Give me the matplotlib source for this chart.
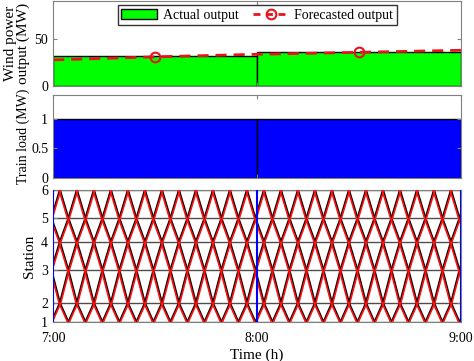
import numpy as np
import matplotlib.pyplot as plt
from matplotlib.patches import Patch
from matplotlib.lines import Line2D

plt.rcParams["font.family"] = ["Liberation Serif", "DejaVu Serif"]
plt.rcParams["font.size"] = 10

# Datos del panel de viento (MW)
horas_bloque = [7, 8]
potencia_real = [32, 36.5]
horas_pronostico = [7, 7.5, 8, 8.5, 9]
potencia_pronostico = [27.7, 31, 33.7, 35.8, 38]

# Carga de trenes (MW)
carga_tren = [1, 1]

# Diagrama de marcha
estaciones = [1, 2, 3, 4, 5, 6]
posicion_estacion = [0, 1.44, 3.92, 6.06, 7.83, 9.98]  # km
tiempo_tramo = [2.5, 2.5, 2.5, 2.5, 2.5]  # min por tramo
salidas_subida = [-15.5, -10.5, -5.5, -0.5, 4.5, 9.5, 14.5, 19.5, 24.5, 29.5,
                  34.5, 39.5, 44.5, 49.5, 54.5, 59.5, 64.5, 69.5, 74.5, 79.5,
                  84.5, 89.5, 94.5, 99.5, 104.5, 109.5, 114.5, 119.5]
salidas_bajada = [-13, -8, -3, 2, 7, 12, 17, 22, 27, 32, 37, 42, 47, 52,
                  57, 62, 67, 72, 77, 82, 87, 92, 97, 102, 107, 112, 117, 122]
retraso_real = 0.25  # min

gris = "0.5"

fig = plt.figure(figsize=(4.74, 3.61), dpi=100)
ax1 = fig.add_axes([0.112, 0.762, 0.861, 0.234])
ax2 = fig.add_axes([0.112, 0.507, 0.861, 0.229])
ax3 = fig.add_axes([0.112, 0.108, 0.861, 0.366])

for ax in (ax1, ax2, ax3):
    ax.set_xlim(7, 9)
    ax.tick_params(direction="in", length=3, color=gris, top=True, right=True)
    for s in ax.spines.values():
        s.set_color(gris)

# Panel 1: potencia eólica
ax1.bar(horas_bloque, potencia_real, width=1, align="edge",
        color="#00ff00", edgecolor="black", linewidth=1)
ax1.plot(horas_pronostico, potencia_pronostico, "--", color="#e8141b", lw=2,
         marker="o", markevery=[1, 3], markersize=7, markerfacecolor="none",
         markeredgewidth=1.5, dashes=(4, 2.5))
ax1.set_ylim(0, 90)
ax1.set_yticks([0, 50])
ax1.set_xticks([7, 8, 9])
ax1.set_xticklabels([])
ax1.set_ylabel("Wind power\noutput (MW)", labelpad=3, fontsize=11, linespacing=0.95)
handles = [Patch(facecolor="#00ff00", edgecolor="black", label="Actual output"),
           Line2D([], [], color="#e8141b", ls="--", lw=2, marker="o",
                  markerfacecolor="none", markeredgewidth=1.5, markersize=7,
                  dashes=(2.5, 2), label="Forecasted output")]
leg = ax1.legend(handles=handles, loc="upper center", ncol=2, frameon=True,
                 fancybox=False, edgecolor="black", borderpad=0.25,
                 handlelength=2.6, columnspacing=1.0, handletextpad=0.4,
                 bbox_to_anchor=(0.5, 1.035))
leg.get_frame().set_linewidth(1)

# Panel 2: carga de trenes
ax2.bar(horas_bloque, carga_tren, width=1, align="edge",
        color="#0000ff", edgecolor="black", linewidth=1)
ax2.set_ylim(0, 1.4)
ax2.set_yticks([0, 0.5, 1])
ax2.set_yticklabels(["0", "0.5", "1"])
ax2.set_xticks([7, 8, 9])
ax2.set_xticklabels([])
ax2.set_ylabel("Train load (MW)", labelpad=1, fontsize=10)

# Panel 3: diagrama de marcha
for p in posicion_estacion:
    ax3.axhline(p, color="0.3", lw=1, zorder=1)

t_cum = np.concatenate([[0], np.cumsum(tiempo_tramo)])
for salida in salidas_subida:
    t = 7 + (salida + t_cum) / 60
    ax3.plot(t, posicion_estacion, color="black", lw=1.5, zorder=2)
    ax3.plot(t + retraso_real / 60, posicion_estacion, color="#ff1010", lw=1.2, zorder=3)
for salida in salidas_bajada:
    t = 7 + (salida + t_cum) / 60
    pos = posicion_estacion[::-1]
    ax3.plot(t, pos, color="black", lw=1.5, zorder=2)
    ax3.plot(t - retraso_real / 60, pos, color="#ff1010", lw=1.2, zorder=3)

for h in [7, 8, 9]:
    ax3.axvline(h, color="#0000ff", lw=1.5, zorder=4)

ax3.set_ylim(posicion_estacion[0], posicion_estacion[-1])
ax3.set_yticks(posicion_estacion)
ax3.set_yticklabels([str(e) for e in estaciones])
ax3.set_xticks([7, 8, 9])
ax3.set_xticklabels(["7:00", "8:00", "9:00"])
ax3.tick_params(axis="x", pad=7)
ax3.set_ylabel("Station", labelpad=4, fontsize=11)
ax3.set_xlabel("Time (h)", labelpad=3, fontsize=11)

fig.savefig("out.png", dpi=100)
